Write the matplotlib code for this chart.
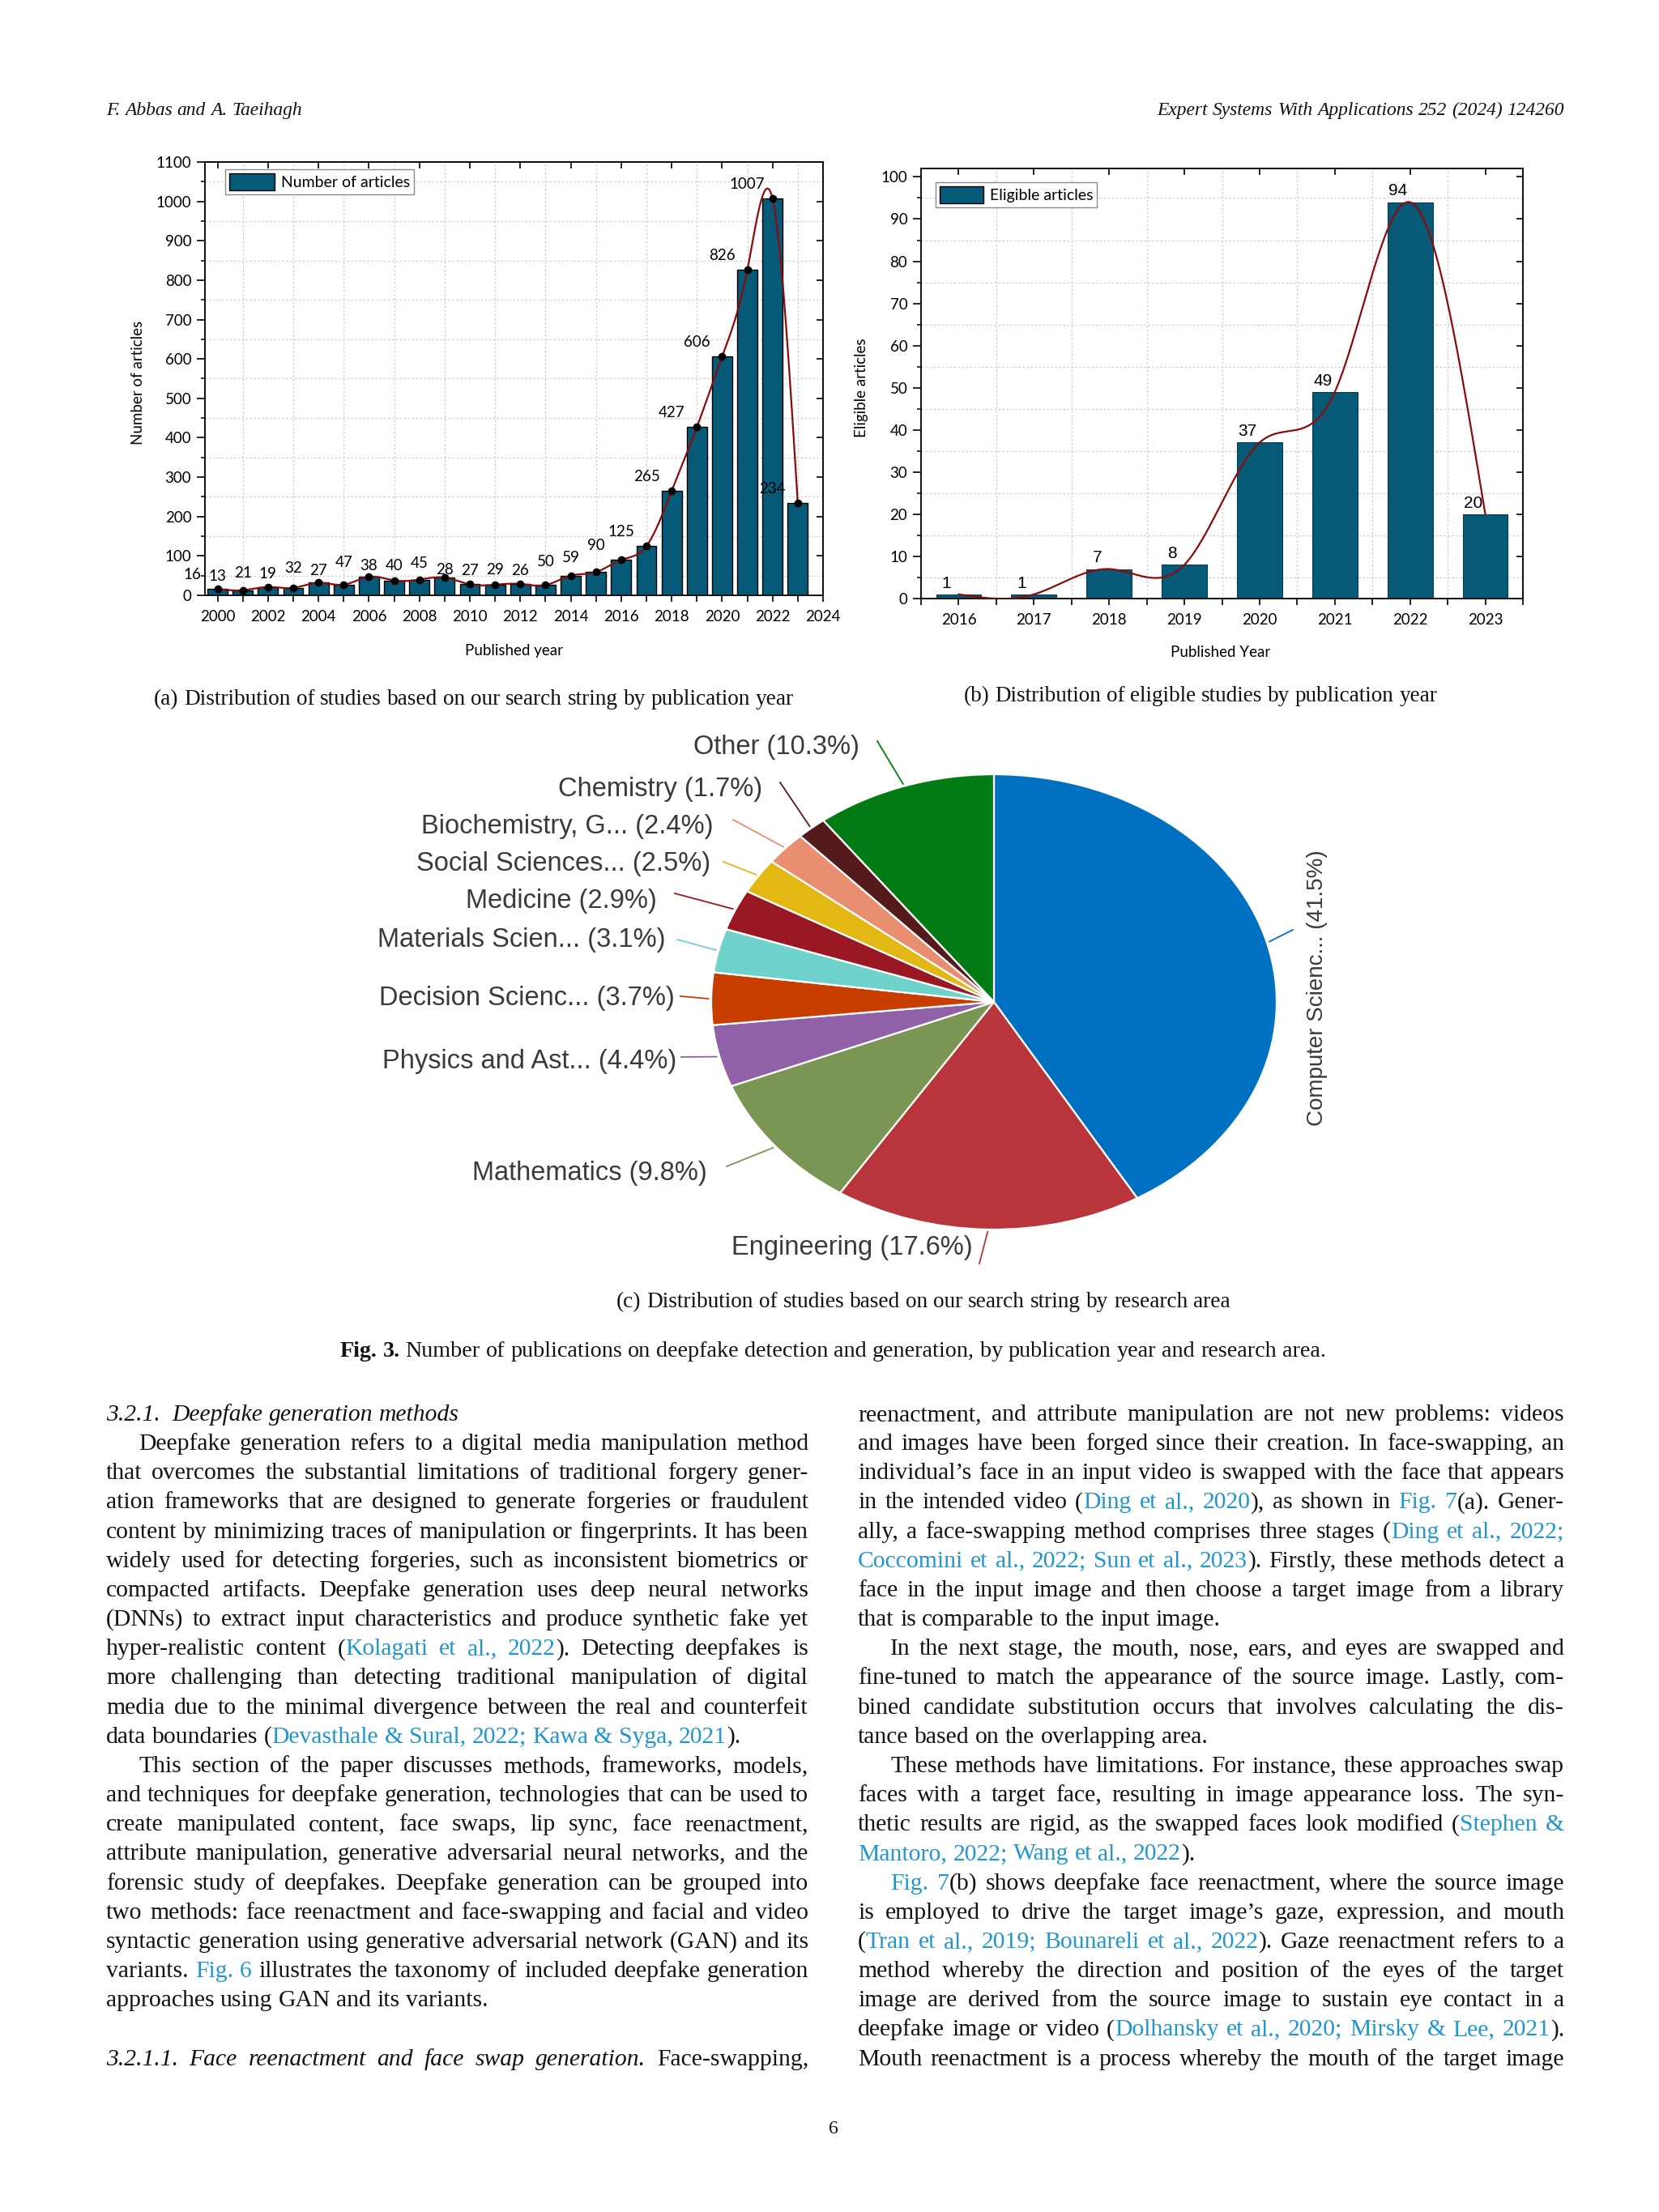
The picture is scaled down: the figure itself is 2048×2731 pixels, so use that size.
import numpy as np
import matplotlib
matplotlib.use("Agg")
import matplotlib.pyplot as plt
from matplotlib.font_manager import FontProperties
from matplotlib.ticker import MultipleLocator
from matplotlib.patches import Patch
from matplotlib.lines import Line2D

# ---------------- data ----------------
years_a = list(range(2000, 2024))
articles = [16, 13, 21, 19, 32, 27, 47, 38, 40, 45, 28, 27, 29, 26,
            50, 59, 90, 125, 265, 427, 606, 826, 1007, 234]

years_b = [2016, 2017, 2018, 2019, 2020, 2021, 2022, 2023]
eligible = [1, 1, 7, 8, 37, 49, 94, 20]

areas = ["Computer Scienc...", "Engineering", "Mathematics", "Physics and Ast...",
         "Decision Scienc...", "Materials Scien...", "Medicine", "Social Sciences...",
         "Biochemistry, G...", "Chemistry", "Other"]
shares = [41.5, 17.6, 9.8, 4.4, 3.7, 3.1, 2.9, 2.5, 2.4, 1.7, 10.3]
pie_colors = ["#0071c1", "#b8363b", "#7b9654", "#9060a8", "#c73e00", "#6fd3cc",
              "#9a1823", "#e3b714", "#e98f70", "#551a1b", "#037b14"]

BAR = "#065a78"
CURVE = "#8b0a0a"
LINK = "#1f96d0"
TXT = "#111111"
SERIF = "Liberation Serif"

W, H = 2048, 2731
fig = plt.figure(figsize=(W / 100, H / 100), dpi=100)
fig.patch.set_facecolor("white")


def fx(x):
    return x / W


def fy(y):
    return 1 - y / H


def box(l, t, r, b):
    return [l / W, 1 - b / H, (r - l) / W, (b - t) / H]


def smooth(x, y, n=400):
    # natural cubic spline through the data points
    x = np.asarray(x, float)
    y = np.asarray(y, float)
    k = len(x)
    h = np.diff(x)
    A = np.zeros((k, k))
    r = np.zeros(k)
    A[0, 0] = A[-1, -1] = 1
    for i in range(1, k - 1):
        A[i, i - 1] = h[i - 1]
        A[i, i] = 2 * (h[i - 1] + h[i])
        A[i, i + 1] = h[i]
        r[i] = 3 * ((y[i + 1] - y[i]) / h[i] - (y[i] - y[i - 1]) / h[i - 1])
    c = np.linalg.solve(A, r)
    b = (y[1:] - y[:-1]) / h - h * (2 * c[:-1] + c[1:]) / 3
    d = (c[1:] - c[:-1]) / (3 * h)
    xs = np.linspace(x[0], x[-1], n)
    idx = np.clip(np.searchsorted(x, xs) - 1, 0, k - 2)
    t = xs - x[idx]
    return xs, y[idx] + b[idx] * t + c[idx] * t ** 2 + d[idx] * t ** 3


def style_frame(ax, xmaj, xmin, ymaj, ymin):
    for s in ax.spines.values():
        s.set_linewidth(1.4)
        s.set_color("#111111")
    ax.xaxis.set_major_locator(MultipleLocator(xmaj))
    ax.xaxis.set_minor_locator(MultipleLocator(xmin))
    ax.yaxis.set_major_locator(MultipleLocator(ymaj))
    ax.yaxis.set_minor_locator(MultipleLocator(ymin))
    ax.tick_params(axis="x", which="both", direction="out", length=6, width=1.2, pad=7)
    ax.tick_params(axis="y", which="major", direction="out", length=7, width=1.2, pad=5)
    ax.tick_params(axis="y", which="minor", direction="out", length=3.5, width=1.1)
    ax.grid(which="minor", linestyle=(0, (2, 2)), color="#cdcdcd", linewidth=0.9)
    ax.grid(which="major", visible=False)
    ax.set_axisbelow(True)
    for lab in ax.get_xticklabels() + ax.get_yticklabels():
        lab.set_fontfamily("Lato")
        lab.set_fontsize(13.5)
    sy = ax.secondary_yaxis("right")
    sy.yaxis.set_major_locator(MultipleLocator(ymaj))
    sy.tick_params(direction="in", length=6, width=1.2, labelright=False)
    sy.spines["right"].set_linewidth(1.4)
    sx = ax.secondary_xaxis("top")
    sx.xaxis.set_major_locator(MultipleLocator(xmaj))
    sx.tick_params(direction="in", length=6, width=1.2, labeltop=False)
    sx.spines["top"].set_linewidth(1.4)


# ---------------- chart (a) ----------------
ax1 = fig.add_axes(box(253, 200, 1016, 735))
ax1.bar(years_a, articles, width=0.8, color=BAR, edgecolor="black", linewidth=1.0, zorder=2)
xs, ys = smooth(years_a, articles)
ax1.plot(xs, ys, color=CURVE, linewidth=1.6, zorder=3)
ax1.plot(years_a, articles, "o", color="black", markersize=6, zorder=4)
for yr, v in zip(years_a, articles):
    ax1.annotate(str(v), (yr - 1, v), xytext=(0, 6.5), textcoords="offset points",
                 ha="center", va="bottom", fontsize=13.5, family="Lato",
                 annotation_clip=False, zorder=5)
ax1.set_xlim(1999.5, 2024)
ax1.set_ylim(0, 1100)
style_frame(ax1, 2, 1, 100, 50)
ax1.set_ylabel("Number of articles", family="Lato", fontsize=13.5)
ax1.set_xlabel("Published year", family="Lato", fontsize=13.5)
ax1.yaxis.set_label_coords(-0.097, 0.49)
ax1.xaxis.set_label_coords(0.50, -0.112)
ax1.legend(handles=[Patch(facecolor=BAR, edgecolor="black", label="Number of articles")],
           loc="upper left", bbox_to_anchor=(0.033, 0.983), borderaxespad=0,
           fancybox=False, edgecolor="#8a8a8a", framealpha=1,
           prop=FontProperties(family="Lato", size=14),
           handlelength=2.9, handleheight=1.3, borderpad=0.25, handletextpad=0.4)

# ---------------- chart (b) ----------------
ax2 = fig.add_axes(box(1137, 208, 1880, 739))
ax2.bar(years_b, eligible, width=0.6, color=BAR, edgecolor="#0a3a4e", linewidth=0.8, zorder=2)
xs, ys = smooth(years_b, eligible)
ax2.plot(xs, ys, color=CURVE, linewidth=1.6, zorder=3)
for yr, v in zip(years_b, eligible):
    ax2.annotate(str(v), (yr - 0.16, v), xytext=(0, 3), textcoords="offset points",
                 ha="center", va="bottom", fontsize=15, family="Liberation Sans", zorder=5)
ax2.set_xlim(2015.5, 2023.5)
ax2.set_ylim(0, 102)
style_frame(ax2, 1, 0.5, 10, 5)
ax2.set_ylabel("Eligible articles", family="Lato", fontsize=13.5)
ax2.set_xlabel("Published Year", family="Lato", fontsize=13.5)
ax2.yaxis.set_label_coords(-0.088, 0.49)
ax2.xaxis.set_label_coords(0.497, -0.11)
ax2.legend(handles=[Patch(facecolor=BAR, edgecolor="black", label="Eligible articles")],
           loc="upper left", bbox_to_anchor=(0.024, 0.968), borderaxespad=0,
           fancybox=False, edgecolor="#8a8a8a", framealpha=1,
           prop=FontProperties(family="Lato", size=14),
           handlelength=2.8, handleheight=1.3, borderpad=0.25, handletextpad=0.4)

# ---------------- pie (c) ----------------
PCX, PCY, RX, RY = 1227, 1237, 349, 281
axp = fig.add_axes(box(PCX - RX, PCY - RY, PCX + RX, PCY + RY))
wedges, _ = axp.pie(shares, colors=pie_colors, startangle=90, counterclock=False,
                    wedgeprops=dict(edgecolor="white", linewidth=1.6))
axp.set_aspect("auto")
axp.set_xlim(-1, 1)
axp.set_ylim(-1, 1)
axp.axis("off")

# label placement: (text x, text y, line start x, line start y)
label_pos = [
    (1626, 1220, 1596, 1148),
    (1201, 1540, 1209, 1560),
    (873, 1449, 897, 1440),
    (835, 1310, 841, 1305),
    (833, 1232, 840, 1230),
    (821, 1161, 836, 1160),
    (811, 1112, 833, 1103),
    (877, 1067, 893, 1064),
    (881, 1021, 905, 1012),
    (941, 975, 963, 966),
    (1061, 923, 1083, 915),
]
tot = sum(shares)
for i, (w, name, s) in enumerate(zip(wedges, areas, shares)):
    th = np.deg2rad((w.theta1 + w.theta2) / 2)
    ex = PCX + RX * 1.01 * np.cos(th)
    ey = PCY - RY * 1.01 * np.sin(th)
    tx, ty, lx, ly = label_pos[i]
    fig.add_artist(Line2D([fx(lx), fx(ex)], [fy(ly), fy(ey)], transform=fig.transFigure,
                          color=pie_colors[i], linewidth=1.3))
    txt = f"{name} ({s / tot * 100:.1f}%)"
    if i == 0:
        fig.text(fx(tx), fy(ty), txt, rotation=90, ha="center", va="center",
                 fontsize=20, family="Liberation Sans", color="#3a3a3a")
    else:
        fig.text(fx(tx), fy(ty), txt, ha="right", va="center",
                 fontsize=23.5, family="Liberation Sans", color="#3a3a3a")

# ---------------- page text ----------------
renderer = fig.canvas.get_renderer()
_fp_cache = {}


def fprop(size, ital=False, bold=False):
    key = (round(size, 3), ital, bold)
    if key not in _fp_cache:
        _fp_cache[key] = FontProperties(family=SERIF, size=size,
                                        style="italic" if ital else "normal",
                                        weight="bold" if bold else "normal")
    return _fp_cache[key]


def tw(s, fp):
    if not s:
        return 0.0
    return renderer.get_text_width_height_descent(s, fp, ismath=False)[0]


def parse(line):
    # {..} link colour, [..] italic, <..> bold
    words = [[]]
    col, it, bd = TXT, False, False
    for ch in line:
        if ch == "{":
            col = LINK
        elif ch == "}":
            col = TXT
        elif ch == "[":
            it = True
        elif ch == "]":
            it = False
        elif ch == "<":
            bd = True
        elif ch == ">":
            bd = False
        elif ch == " ":
            words.append([])
        else:
            w = words[-1]
            if w and w[-1][1:] == [col, it, bd]:
                w[-1][0] += ch
            else:
                w.append([ch, col, it, bd])
    return words


def measure(line, fs):
    words = parse(line)
    ww = [sum(tw(r[0], fprop(fs, r[2], r[3])) for r in w) for w in words]
    sp = tw("a a", fprop(fs)) - tw("aa", fprop(fs))
    return words, ww, sp


def draw_line(line, x0, x1, base, fs, justify=False, indent=0, center=None):
    words, ww, sp = measure(line, fs)
    if center is not None:
        total = sum(ww) + sp * (len(words) - 1)
        x = center - total / 2
        gap = sp
    else:
        x = x0 + indent
        gap = (x1 - x - sum(ww)) / (len(words) - 1) if justify and len(words) > 1 else sp
    for w, wd in zip(words, ww):
        for text, col, it, bd in w:
            fp = fprop(fs, it, bd)
            fig.text(fx(x), fy(base), text, color=col, fontproperties=fp,
                     ha="left", va="baseline")
            x += tw(text, fp)
        x += gap


def fit_size(line, target, fs0=20):
    words, ww, sp = measure(line, fs0)
    return fs0 * target / (sum(ww) + sp * (len(words) - 1))


# header
hdr_right = "[Expert Systems With Applications 252 (2024) 124260]"
hs = fit_size(hdr_right, 504)
draw_line("[F. Abbas and A. Taeihagh]", 131, 0, 142, hs)
words, ww, sp = measure(hdr_right, hs)
draw_line(hdr_right, 1931 - (sum(ww) + sp * (len(words) - 1)), 0, 142, hs)

# sub-captions and figure caption
cap_a = "(a) Distribution of studies based on our search string by publication year"
cap_b = "(b) Distribution of eligible studies by publication year"
cap_c = "(c) Distribution of studies based on our search string by research area"
cap_fig = ("<Fig. 3.> Number of publications on deepfake detection and generation, "
           "by publication year and research area.")
draw_line(cap_a, 0, 0, 870, fit_size(cap_a, 789), center=585)
draw_line(cap_b, 0, 0, 866, fit_size(cap_b, 586), center=1482)
draw_line(cap_c, 0, 0, 1614, fit_size(cap_c, 756), center=1140)
draw_line(cap_fig, 0, 0, 1675, fit_size(cap_fig, 1217), center=1028)

# body columns: (text, indent, justify)
left_col = [
    ("[3.2.1.  Deepfake generation methods]", False, False),
    ("Deepfake generation refers to a digital media manipulation method", True, True),
    ("that overcomes the substantial limitations of traditional forgery gener-", False, True),
    ("ation frameworks that are designed to generate forgeries or fraudulent", False, True),
    ("content by minimizing traces of manipulation or fingerprints. It has been", False, True),
    ("widely used for detecting forgeries, such as inconsistent biometrics or", False, True),
    ("compacted artifacts. Deepfake generation uses deep neural networks", False, True),
    ("(DNNs) to extract input characteristics and produce synthetic fake yet", False, True),
    ("hyper-realistic content ({Kolagati et al., 2022}). Detecting deepfakes is", False, True),
    ("more challenging than detecting traditional manipulation of digital", False, True),
    ("media due to the minimal divergence between the real and counterfeit", False, True),
    ("data boundaries ({Devasthale & Sural, 2022; Kawa & Syga, 2021}).", False, False),
    ("This section of the paper discusses methods, frameworks, models,", True, True),
    ("and techniques for deepfake generation, technologies that can be used to", False, True),
    ("create manipulated content, face swaps, lip sync, face reenactment,", False, True),
    ("attribute manipulation, generative adversarial neural networks, and the", False, True),
    ("forensic study of deepfakes. Deepfake generation can be grouped into", False, True),
    ("two methods: face reenactment and face-swapping and facial and video", False, True),
    ("syntactic generation using generative adversarial network (GAN) and its", False, True),
    ("variants. {Fig. 6} illustrates the taxonomy of included deepfake generation", False, True),
    ("approaches using GAN and its variants.", False, False),
    None,
    ("[3.2.1.1. Face reenactment and face swap generation.] Face-swapping,", False, True),
]
right_col = [
    ("reenactment, and attribute manipulation are not new problems: videos", False, True),
    ("and images have been forged since their creation. In face-swapping, an", False, True),
    ("individual\u2019s face in an input video is swapped with the face that appears", False, True),
    ("in the intended video ({Ding et al., 2020}), as shown in {Fig. 7}(a). Gener-", False, True),
    ("ally, a face-swapping method comprises three stages ({Ding et al., 2022;}", False, True),
    ("{Coccomini et al., 2022; Sun et al., 2023}). Firstly, these methods detect a", False, True),
    ("face in the input image and then choose a target image from a library", False, True),
    ("that is comparable to the input image.", False, False),
    ("In the next stage, the mouth, nose, ears, and eyes are swapped and", True, True),
    ("fine-tuned to match the appearance of the source image. Lastly, com-", False, True),
    ("bined candidate substitution occurs that involves calculating the dis-", False, True),
    ("tance based on the overlapping area.", False, False),
    ("These methods have limitations. For instance, these approaches swap", True, True),
    ("faces with a target face, resulting in image appearance loss. The syn-", False, True),
    ("thetic results are rigid, as the swapped faces look modified ({Stephen &}", False, True),
    ("{Mantoro, 2022; Wang et al., 2022}).", False, False),
    ("{Fig. 7}(b) shows deepfake face reenactment, where the source image", True, True),
    ("is employed to drive the target image\u2019s gaze, expression, and mouth", False, True),
    ("({Tran et al., 2019; Bounareli et al., 2022}). Gaze reenactment refers to a", False, True),
    ("method whereby the direction and position of the eyes of the target", False, True),
    ("image are derived from the source image to sustain eye contact in a", False, True),
    ("deepfake image or video ({Dolhansky et al., 2020; Mirsky & Lee, 2021}).", False, True),
    ("Mouth reenactment is a process whereby the mouth of the target image", False, True),
]

COL_W = 867
INDENT = 40
# pick one body size so that the tightest justified line still fits
ratios = []
for item in left_col + right_col:
    if item is None or not item[2]:
        continue
    words, ww, sp = measure(item[0], 20)
    ratios.append((COL_W - (INDENT if item[1] else 0)) / (sum(ww) + sp * (len(words) - 1)))
body_fs = min(22.0, 20 * min(ratios) * 0.995)

BASE0, STEP = 1754, 36.16
for col, (x0, x1) in ((left_col, (131, 998)), (right_col, (1059, 1931))):
    for i, item in enumerate(col):
        if item is None:
            continue
        text, ind, just = item
        draw_line(text, x0, x1, BASE0 + STEP * i, body_fs, justify=just,
                  indent=INDENT if ind else 0)

fig.text(fx(1029), fy(2634), "6", fontproperties=fprop(17), ha="center",
         va="baseline", color=TXT)

fig.savefig("out.png", dpi=100, facecolor="white")
